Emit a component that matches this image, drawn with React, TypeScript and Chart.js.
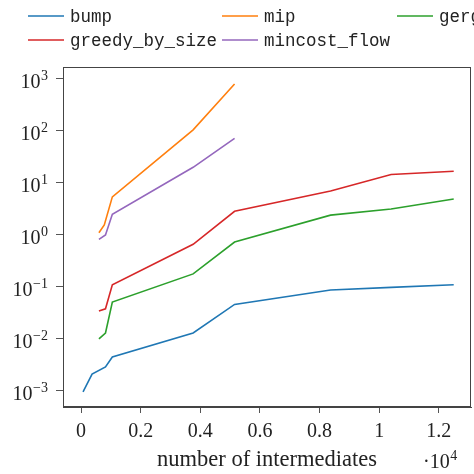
import React, { useEffect, useRef } from "react";
import { Chart, registerables } from "chart.js";

Chart.register(...registerables);

// number of intermediates
const bumpX = [67, 370, 820, 1050, 3760, 5150, 8370, 10400, 12500];
const bumpY = [0.00096, 0.0021, 0.0029, 0.0045, 0.013, 0.046, 0.0875, 0.098, 0.11];

const mipX = [600, 780, 1050, 3760, 5150];
const mipY = [1.1, 1.55, 5.4, 105, 800];

const gergovX = [600, 820, 1050, 3760, 5150, 8370, 10400, 12500];
const gergovY = [0.01, 0.013, 0.051, 0.178, 0.73, 2.4, 3.16, 4.9];

const greedyX = [600, 820, 1050, 3760, 5150, 8370, 10400, 12500];
const greedyY = [0.0345, 0.038, 0.11, 0.66, 2.85, 7.0, 14.5, 16.8];

const mincostX = [600, 820, 1050, 3760, 5150];
const mincostY = [0.82, 1.0, 2.5, 20, 72];

const seriesNames = ["bump", "mip", "gergov", "greedy_by_size", "mincost_flow"];
const seriesColors = ["#1f77b4", "#ff7f0e", "#2ca02c", "#d62728", "#9467bd"];
const seriesX = [bumpX, mipX, gergovX, greedyX, mincostX];
const seriesY = [bumpY, mipY, gergovY, greedyY, mincostY];

const xTicks = [0, 2000, 4000, 6000, 8000, 10000, 12000];
const yTicks = [1e-3, 1e-2, 1e-1, 1e0, 1e1, 1e2, 1e3];
const yTickExponents = ["−3", "−2", "−1", "0", "1", "2", "3"];

const X_MIN = -605;
const X_MAX = 13080;
const Y_MIN = Math.pow(10, -3.31);
const Y_MAX = Math.pow(10, 3.23);

const SERIF = "'Liberation Serif', 'DejaVu Serif', serif";
const MONO = "'Liberation Mono', 'DejaVu Sans Mono', monospace";

const framePlugin = {
  id: "frameAndLegend",
  afterDraw(chart: any) {
    const ctx = chart.ctx;
    const a = chart.chartArea;
    ctx.save();
    ctx.strokeStyle = "#444";
    ctx.lineWidth = 1;
    ctx.strokeRect(a.left + 0.5, a.top + 0.5, a.right - a.left - 1, a.bottom - a.top - 1);

    // y tick labels: 10 with raised exponent
    const ys = chart.scales.y;
    ctx.fillStyle = "#222";
    ctx.textAlign = "right";
    ctx.textBaseline = "alphabetic";
    yTicks.forEach((v, i) => {
      const py = ys.getPixelForValue(v);
      const right = 48;
      ctx.font = "14px " + SERIF;
      const ew = ctx.measureText(yTickExponents[i]).width;
      ctx.fillText(yTickExponents[i], right, py + 1);
      ctx.font = "20px " + SERIF;
      ctx.fillText("10", right - ew - 0.5, py + 9);
    });

    // legend
    const colX = [28, 222, 397];
    const rowY = [16, 40];
    ctx.font = "17.5px " + MONO;
    ctx.textBaseline = "middle";
    ctx.textAlign = "left";
    chart.data.datasets.forEach((ds: any, i: number) => {
      const x = colX[i % 3];
      const y = rowY[Math.floor(i / 3)];
      ctx.strokeStyle = ds.borderColor;
      ctx.lineWidth = 1.6;
      ctx.beginPath();
      ctx.moveTo(x, y);
      ctx.lineTo(x + 36, y);
      ctx.stroke();
      ctx.fillStyle = "#222";
      ctx.fillText(ds.label, x + 42, y + 1);
    });

    // x multiplier
    ctx.font = "20px " + SERIF;
    ctx.fillStyle = "#222";
    ctx.textAlign = "left";
    ctx.textBaseline = "alphabetic";
    ctx.fillText("·10", 423, 468);
    const w = ctx.measureText("·10").width;
    ctx.font = "14px " + SERIF;
    ctx.fillText("4", 423 + w + 0.5, 460);
    ctx.restore();
  },
};

export default function App() {
  const ref = useRef<HTMLCanvasElement>(null);
  useEffect(() => {
    if (!ref.current) return;
    const datasets = seriesNames.map((name, i) => ({
      label: name,
      data: seriesX[i].map((x, j) => ({ x, y: seriesY[i][j] })),
      borderColor: seriesColors[i],
      backgroundColor: seriesColors[i],
      borderWidth: 1.6,
      pointRadius: 0,
      tension: 0,
      fill: false,
    }));
    const chart = new Chart(ref.current, {
      type: "line",
      data: { datasets },
      options: {
        animation: false,
        responsive: false,
        maintainAspectRatio: false,
        layout: { padding: { top: 67, right: 3, left: 0, bottom: 0 } },
        plugins: {
          legend: { display: false },
          tooltip: { enabled: false },
        },
        scales: {
          x: {
            type: "linear",
            min: X_MIN,
            max: X_MAX,
            afterBuildTicks: (s: any) => {
              s.ticks = xTicks.map((v) => ({ value: v }));
            },
            afterFit: (s: any) => {
              s.height = 67;
            },
            grid: {
              display: true,
              drawOnChartArea: false,
              drawTicks: true,
              tickLength: 6,
              color: "#555",
            },
            border: { display: true, color: "#444" },
            ticks: {
              autoSkip: false,
              maxRotation: 0,
              padding: 7,
              color: "#222",
              font: { family: SERIF, size: 20 },
              callback: (v: any) => String(Number(v) / 10000),
            },
            title: {
              display: true,
              text: "number of intermediates",
              color: "#222",
              font: { family: SERIF, size: 22.5 },
              padding: { top: 0, bottom: 0 },
            },
          },
          y: {
            type: "logarithmic",
            min: Y_MIN,
            max: Y_MAX,
            afterBuildTicks: (s: any) => {
              s.ticks = yTicks.map((v) => ({ value: v }));
            },
            afterFit: (s: any) => {
              s.width = 63;
            },
            grid: {
              display: true,
              drawOnChartArea: false,
              drawTicks: true,
              tickLength: 7,
              color: "#555",
            },
            border: { display: true, color: "#444" },
            ticks: {
              autoSkip: false,
              padding: 8,
              color: "#222",
              font: { family: SERIF, size: 20 },
              callback: () => "",
            },
          },
        },
      },
      plugins: [framePlugin],
    });
    return () => chart.destroy();
  }, []);
  return (
    <div style={{ position: "fixed", left: 0, top: 0, width: 474, height: 474, background: "#fff" }}>
      <canvas ref={ref} width={474} height={474} style={{ width: 474, height: 474, display: "block" }} />
    </div>
  );
}
